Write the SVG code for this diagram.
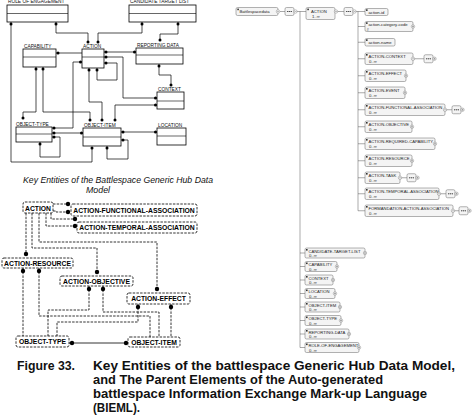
<svg xmlns="http://www.w3.org/2000/svg" width="474" height="416" viewBox="0 0 474 416">
<defs>
<style>
.er rect{fill:#fff;stroke:#000;stroke-width:.8}
.er line{stroke:#000;stroke-width:.6}
.erl{font-family:"Liberation Sans",Arial,sans-serif;font-size:4.8px;fill:#111}
.c1 path{fill:none;stroke:#000;stroke-width:.7}
.d{fill:#000}
.cap{font-family:"Liberation Sans",Arial,sans-serif;font-style:italic;font-size:8.8px;fill:#111}
.db rect{fill:#fff;stroke:#000;stroke-width:.8;stroke-dasharray:2.5 1.2}
.dbl{font-family:"Liberation Sans",Arial,sans-serif;font-weight:bold;font-size:6.8px;fill:#000;text-anchor:middle}
.c2 path{fill:none;stroke:#000;stroke-width:.8;stroke-dasharray:2.5 1.2}
.c2 path.s{stroke-dasharray:none}
.b{fill:#f4f4f4;stroke:#666;stroke-width:.5}
.tl{font-family:"Liberation Sans",Arial,sans-serif;font-size:4.2px;fill:#222}
.tc path{fill:none;stroke:#555;stroke-width:.5}
.fig{font-family:"Liberation Sans",Arial,sans-serif;font-weight:bold;font-size:13.5px;fill:#111}
</style>
<g id="pl"><circle r="1.7" fill="#fff" stroke="#666" stroke-width=".4"/><path d="M-1,0H1M0,-1V1" stroke="#444" stroke-width=".35"/></g>
<g id="mi"><circle r="1.7" fill="#fff" stroke="#666" stroke-width=".4"/><path d="M-1,0H1" stroke="#444" stroke-width=".35"/></g>
<g id="sq"><rect x="0" y="0" width="9" height="8" rx="1.5" class="b"/><path d="M2,4H7" stroke="#444" stroke-width=".4"/><circle cx="2.5" cy="4" r=".6" fill="#444"/><circle cx="4.5" cy="4" r=".6" fill="#444"/><circle cx="6.5" cy="4" r=".6" fill="#444"/></g>
<rect id="ic" width="1.6" height="1.6" fill="#333"/>
</defs>
<rect width="474" height="416" fill="#fff"/>

<!-- ===== Top-left ER diagram ===== -->
<g class="er">
<g id="er-roe"><rect x="7" y="5" width="61" height="17"/><line x1="7" y1="13.5" x2="68" y2="13.5"/><text class="erl" x="8" y="3.2">ROLE OF ENGAGEMENT</text></g>
<g id="er-ctl"><rect x="129" y="5" width="67" height="17"/><line x1="129" y1="13.5" x2="196" y2="13.5"/><text class="erl" x="130" y="3.2">CANDIDATE TARGET LIST</text></g>
<g id="er-capability"><rect x="23" y="49" width="33" height="18"/><line x1="23" y1="57" x2="56" y2="57"/><text class="erl" x="24" y="47.5">CAPABILITY</text></g>
<g id="er-action"><rect x="82" y="49" width="22" height="19"/><line x1="82" y1="57" x2="104" y2="57"/><text class="erl" x="83" y="47.5">ACTION</text></g>
<g id="er-reporting"><rect x="136" y="48" width="47" height="16"/><line x1="136" y1="55" x2="183" y2="55"/><text class="erl" x="137" y="46.5">REPORTING DATA</text></g>
<g id="er-context"><rect x="157" y="92" width="27" height="17"/><line x1="157" y1="101" x2="184" y2="101"/><text class="erl" x="158" y="90.5">CONTEXT</text></g>
<g id="er-objtype"><rect x="16" y="127" width="36" height="15"/><line x1="16" y1="134" x2="52" y2="134"/><text class="erl" x="16" y="125.5">OBJECT-TYPE</text></g>
<g id="er-objitem"><rect x="83" y="128" width="38" height="18"/><line x1="83" y1="137" x2="121" y2="137"/><text class="erl" x="84" y="126.5">OBJECT-ITEM</text></g>
<g id="er-location"><rect x="157" y="128" width="29" height="17"/><line x1="157" y1="136" x2="186" y2="136"/><text class="erl" x="158" y="126.5">LOCATION</text></g>
</g>
<g id="er-connectors" class="c1">
<path d="M11,22V162H92V148"/>
<path d="M56,22V33H88V42"/>
<path d="M142,22V33H98V42"/>
<path d="M178,22V34H160V40"/>
<path d="M56,53H82"/>
<path d="M104,52H136"/>
<path d="M104,57H123V98H157"/>
<path d="M104,63H117V80H97V68"/>
<path d="M82,62H73V128H52"/>
<path d="M159,64V75H171V85"/>
<path d="M157,105H115V120"/>
<path d="M36,67V112H23V118"/>
<path d="M43,67V112H90V120"/>
<path d="M89,68V102H102V120"/>
<path d="M52,133H83"/>
<path d="M52,137H60V157H40V142"/>
<path d="M107,146V159H128V140H121"/>
<path d="M121,132H157"/>
<g class="d">
<circle cx="11" cy="24" r="1.5"/><circle cx="92" cy="148" r="1.5"/>
<circle cx="56" cy="24" r="1.5"/><circle cx="88" cy="42" r="1.5"/>
<circle cx="142" cy="24" r="1.5"/><circle cx="98" cy="42" r="1.5"/>
<circle cx="178" cy="24" r="1.5"/><circle cx="160" cy="40" r="1.5"/>
<circle cx="58" cy="53" r="1.5"/>
<circle cx="106" cy="52" r="1.5"/><circle cx="134.5" cy="52" r="1.5"/>
<circle cx="106" cy="57" r="1.5"/><circle cx="155.5" cy="98" r="1.5"/>
<circle cx="106" cy="63" r="1.5"/><circle cx="97" cy="70" r="1.5"/>
<circle cx="80.5" cy="62" r="1.5"/><circle cx="54" cy="128" r="1.5"/>
<circle cx="159" cy="66" r="1.5"/><circle cx="171" cy="85" r="1.5"/>
<circle cx="155.5" cy="105" r="1.5"/><circle cx="115" cy="120" r="1.5"/>
<circle cx="36" cy="69" r="1.5"/><circle cx="23" cy="118" r="1.5"/>
<circle cx="43" cy="69" r="1.5"/><circle cx="90" cy="120" r="1.5"/>
<circle cx="89" cy="70" r="1.5"/><circle cx="102" cy="120" r="1.5"/>
<circle cx="54" cy="133" r="1.5"/><circle cx="81.5" cy="133" r="1.5"/>
<circle cx="54" cy="137" r="1.5"/><circle cx="40" cy="144" r="1.5"/>
<circle cx="107" cy="148" r="1.5"/><circle cx="123" cy="140" r="1.5"/>
<circle cx="123" cy="132" r="1.5"/><circle cx="155.5" cy="132" r="1.5"/>
</g>
</g>
<text class="cap" x="23" y="183" textLength="190" lengthAdjust="spacingAndGlyphs">Key Entities of the Battlespace Generic Hub Data</text>
<text class="cap" x="98" y="193" text-anchor="middle">Model</text>

<!-- ===== Bottom-left dashed diagram ===== -->
<g class="db">
<g id="d-action"><rect x="23" y="202" width="30" height="11" rx="2"/><text class="dbl" x="38" y="210.5">ACTION</text></g>
<g id="d-afa"><rect x="71" y="204" width="126" height="12" rx="2"/><text class="dbl" x="134" y="212.5">ACTION-FUNCTIONAL-ASSOCIATION</text></g>
<g id="d-ata"><rect x="77" y="222" width="120" height="11" rx="2"/><text class="dbl" x="137" y="230">ACTION-TEMPORAL-ASSOCIATION</text></g>
<g id="d-ar"><rect x="2" y="258" width="71" height="10" rx="2"/><text class="dbl" x="37.5" y="265.6">ACTION-RESOURCE</text></g>
<g id="d-ao"><rect x="60" y="276" width="73" height="10" rx="2"/><text class="dbl" x="96.5" y="283.6">ACTION-OBJECTIVE</text></g>
<g id="d-ae"><rect x="127" y="293" width="63" height="11" rx="2"/><text class="dbl" x="158.5" y="301">ACTION-EFFECT</text></g>
<g id="d-ot"><rect x="16" y="336" width="53" height="11" rx="2"/><text class="dbl" x="42.5" y="344">OBJECT-TYPE</text></g>
<g id="d-oi"><rect x="128" y="337" width="52" height="10" rx="2"/><text class="dbl" x="154" y="344.6">OBJECT-ITEM</text></g>
</g>
<g id="d-connectors" class="c2">
<path d="M53,204H67"/>
<path d="M53,211H56V212H67"/>
<path d="M51,213V219H74"/>
<path d="M46,213V226H74"/>
<path d="M39,213V242H157V288"/>
<path d="M32,213V248H97V271"/>
<path d="M26,213V253"/>
<path d="M23,268V336"/>
<path d="M39,268V316H150V337"/>
<path d="M89,286V310H48V336"/>
<path d="M103,286V312H159V337"/>
<path d="M138,304V322H57V336"/>
<path d="M171,304V337"/>
<path class="s" d="M69,343H128"/>
<g class="d">
<circle cx="68" cy="204" r="2.2"/><circle cx="68" cy="212" r="2.2"/>
<circle cx="75" cy="219" r="2.2"/><circle cx="75" cy="226" r="2.2"/>
<circle cx="157" cy="289" r="2.2"/><circle cx="97" cy="272" r="2.2"/>
<circle cx="26" cy="254" r="2.2"/>
<circle cx="23" cy="271" r="2.2"/><circle cx="39" cy="271" r="2.2"/>
<circle cx="89" cy="289" r="2.2"/><circle cx="103" cy="289" r="2.2"/>
<circle cx="138" cy="307" r="2.2"/><circle cx="171" cy="307" r="2.2"/>
<circle cx="72" cy="343" r="2.2"/><circle cx="126" cy="343" r="2.2"/>
</g>
</g>

<!-- ===== Right tree (schema view) ===== -->
<g id="tree-connectors" class="tc">
<path d="M280,11.5H285M294,11.5H306M300,11.5V347.5"/>
<path d="M337,11.5H344M353,11.5H365M358,11.5V210.75"/>
<path d="M358,26.5H365M358,42.25H365M358,58.75H365M358,75.75H365M358,92.75H365M358,109.75H365M358,126.75H365M358,143.75H365M358,160.75H365M358,177.75H365M358,193.75H365M358,210.75H365"/>
<path d="M413,58.75H424M445,109.75H452M400,177.75H407M439,193.75H446M453,210.75H459"/>
<path d="M300,253H305M300,266.5H305M300,280H305M300,293.5H305M300,307H305M300,320.5H305M300,334H305M300,347.5H305"/>
</g>
<g id="t-root"><rect class="b" x="236" y="7.5" width="42" height="8" rx="1.5"/><use href="#ic" x="237.3" y="8.6"/><text class="tl" x="239.5" y="13">Battlespacedata</text><use href="#mi" x="278" y="11.5"/></g>
<g id="t-root-seq"><use href="#sq" x="285" y="7.5"/><use href="#mi" x="295.5" y="11.5"/></g>
<g id="t-action"><rect class="b" x="306" y="7.5" width="29" height="12" rx="1.5"/><use href="#ic" x="307.3" y="8.6"/><text class="tl" x="311" y="12.6">ACTION</text><text class="tl" x="312" y="18">1..∞</text><use href="#mi" x="336" y="11.5"/></g>
<g id="t-action-seq"><use href="#sq" x="344" y="7.5"/><use href="#mi" x="354.5" y="11.5"/></g>

<g id="t-action-id"><rect class="b" x="365" y="8.5" width="23" height="7" rx="1.5"/><use href="#ic" x="366" y="9.3"/><text class="tl" x="368.5" y="13.5">action-id</text></g>
<g id="t-action-category-code"><rect class="b" x="365" y="21.5" width="48" height="10" rx="1.5"/><use href="#ic" x="366" y="22.3"/><text class="tl" x="368.5" y="26.3">action-category-code</text><text class="tl" x="366.5" y="30.5">#</text><use href="#pl" x="413" y="26.5"/></g>
<g id="t-action-name"><rect class="b" x="365" y="38.5" width="30" height="7.5" rx="1.5"/><use href="#ic" x="366" y="39.3"/><text class="tl" x="368.5" y="43.6">action-name</text></g>
<g id="t-action-context"><rect class="b" x="365" y="53" width="48" height="11.5" rx="1.5"/><use href="#ic" x="366" y="54"/><text class="tl" x="368.5" y="58">ACTION-CONTEXT</text><text class="tl" x="369" y="63">0..∞</text><use href="#mi" x="413" y="58.75"/><use href="#sq" x="424" y="54.75"/><use href="#pl" x="434.5" y="58.75"/></g>
<g id="t-action-effect"><rect class="b" x="365" y="70" width="41" height="11.5" rx="1.5"/><use href="#ic" x="366" y="71"/><text class="tl" x="368.5" y="75">ACTION-EFFECT</text><text class="tl" x="369" y="80">0..∞</text><use href="#pl" x="406" y="75.75"/></g>
<g id="t-action-event"><rect class="b" x="365" y="87" width="40" height="11.5" rx="1.5"/><use href="#ic" x="366" y="88"/><text class="tl" x="368.5" y="92">ACTION-EVENT</text><text class="tl" x="369" y="97">0..∞</text><use href="#pl" x="405" y="92.75"/></g>
<g id="t-action-functional-association"><rect class="b" x="365" y="104" width="80" height="11.5" rx="1.5"/><use href="#ic" x="366" y="105"/><text class="tl" x="368.5" y="109">ACTION-FUNCTIONAL-ASSOCIATION</text><text class="tl" x="369" y="114">0..∞</text><use href="#mi" x="445" y="109.75"/><use href="#sq" x="452" y="105.75"/><use href="#pl" x="462.5" y="109.75"/></g>
<g id="t-action-objective"><rect class="b" x="365" y="121" width="47" height="11.5" rx="1.5"/><use href="#ic" x="366" y="122"/><text class="tl" x="368.5" y="126">ACTION-OBJECTIVE</text><text class="tl" x="369" y="131">0..∞</text><use href="#pl" x="412" y="126.75"/></g>
<g id="t-action-required-capability"><rect class="b" x="365" y="138" width="70" height="11.5" rx="1.5"/><use href="#ic" x="366" y="139"/><text class="tl" x="368.5" y="143">ACTION-REQUIRED-CAPABILITY</text><text class="tl" x="369" y="148">0..∞</text><use href="#pl" x="435" y="143.75"/></g>
<g id="t-action-resource"><rect class="b" x="365" y="155" width="47" height="11.5" rx="1.5"/><use href="#ic" x="366" y="156"/><text class="tl" x="368.5" y="160">ACTION-RESOURCE</text><text class="tl" x="369" y="165">0..∞</text><use href="#pl" x="412" y="160.75"/></g>
<g id="t-action-task"><rect class="b" x="365" y="172" width="35" height="11.5" rx="1.5"/><use href="#ic" x="366" y="173"/><text class="tl" x="368.5" y="177">ACTION-TASK</text><text class="tl" x="369" y="182">0..∞</text><use href="#mi" x="400" y="177.75"/><use href="#sq" x="407" y="173.75"/><use href="#pl" x="417.5" y="177.75"/></g>
<g id="t-action-temporal-association"><rect class="b" x="365" y="188" width="74" height="11.5" rx="1.5"/><use href="#ic" x="366" y="189"/><text class="tl" x="368.5" y="193">ACTION-TEMPORAL-ASSOCIATION</text><text class="tl" x="369" y="198">0..∞</text><use href="#mi" x="439" y="193.75"/><use href="#sq" x="446" y="189.75"/><use href="#pl" x="456.5" y="193.75"/></g>
<g id="t-formandation-action-association"><rect class="b" x="365" y="205" width="88" height="11.5" rx="1.5"/><use href="#ic" x="366" y="206"/><text class="tl" x="368.5" y="210">FORMANDATION-ACTION-ASSOCIATION</text><text class="tl" x="369" y="215">0..∞</text><use href="#mi" x="453" y="210.75"/><use href="#sq" x="459" y="206.75"/><use href="#pl" x="469.5" y="210.75"/></g>

<g id="t-candidate-target-list"><rect class="b" x="305" y="248" width="60" height="10" rx="1.5"/><use href="#ic" x="306" y="249"/><text class="tl" x="308.5" y="252.5">CANDIDATE-TARGET-LIST</text><text class="tl" x="309" y="257">0..∞</text><use href="#pl" x="365" y="253"/></g>
<g id="t-capability"><rect class="b" x="305" y="261.5" width="32" height="10" rx="1.5"/><use href="#ic" x="306" y="262.5"/><text class="tl" x="308.5" y="266">CAPABILITY</text><text class="tl" x="309" y="270.5">0..∞</text><use href="#pl" x="337" y="266.5"/></g>
<g id="t-context"><rect class="b" x="305" y="275" width="28" height="10" rx="1.5"/><use href="#ic" x="306" y="276"/><text class="tl" x="308.5" y="279.5">CONTEXT</text><text class="tl" x="309" y="284">0..∞</text><use href="#pl" x="333" y="280"/></g>
<g id="t-location"><rect class="b" x="305" y="288.5" width="30" height="10" rx="1.5"/><use href="#ic" x="306" y="289.5"/><text class="tl" x="308.5" y="293">LOCATION</text><text class="tl" x="309" y="297.5">0..∞</text><use href="#pl" x="335" y="293.5"/></g>
<g id="t-object-item"><rect class="b" x="305" y="302" width="35" height="10" rx="1.5"/><use href="#ic" x="306" y="303"/><text class="tl" x="308.5" y="306.5">OBJECT-ITEM</text><text class="tl" x="309" y="311">0..∞</text><use href="#pl" x="340" y="307"/></g>
<g id="t-object-type"><rect class="b" x="305" y="315.5" width="36" height="10" rx="1.5"/><use href="#ic" x="306" y="316.5"/><text class="tl" x="308.5" y="320">OBJECT-TYPE</text><text class="tl" x="309" y="324.5">0..∞</text><use href="#pl" x="341" y="320.5"/></g>
<g id="t-reporting-data"><rect class="b" x="305" y="329" width="44" height="10" rx="1.5"/><use href="#ic" x="306" y="330"/><text class="tl" x="308.5" y="333.5">REPORTING-DATA</text><text class="tl" x="309" y="338">0..∞</text><use href="#pl" x="349" y="334"/></g>
<g id="t-role-of-engagement"><rect class="b" x="305" y="342.5" width="54" height="10" rx="1.5"/><use href="#ic" x="306" y="343.5"/><text class="tl" x="308.5" y="347">ROLE-OF-ENGAGEMENT</text><text class="tl" x="309" y="351.5">0..∞</text><use href="#pl" x="359" y="347.5"/></g>

<!-- ===== Figure caption ===== -->
<text class="fig" x="17" y="369.5" textLength="58" lengthAdjust="spacingAndGlyphs">Figure 33.</text>
<text class="fig" x="93" y="369.5" textLength="362" lengthAdjust="spacingAndGlyphs">Key Entities of the battlespace Generic Hub Data Model,</text>
<text class="fig" x="93" y="383.5" textLength="290" lengthAdjust="spacingAndGlyphs">and The Parent Elements of the Auto-generated</text>
<text class="fig" x="93" y="397.5" textLength="334" lengthAdjust="spacingAndGlyphs">battlespace Information Exchange Mark-up Language</text>
<text class="fig" x="93" y="411.5" textLength="47" lengthAdjust="spacingAndGlyphs">(BIEML).</text>
</svg>
